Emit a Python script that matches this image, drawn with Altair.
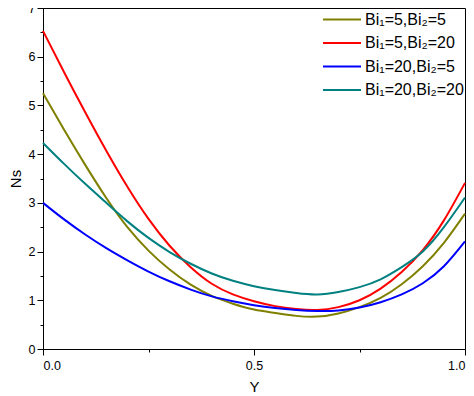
import altair as alt
import pandas as pd

Y = [0, 0.05, 0.1, 0.15, 0.2, 0.25, 0.3, 0.35, 0.4, 0.45, 0.5,
     0.55, 0.6, 0.65, 0.7, 0.75, 0.8, 0.85, 0.9, 0.95, 1.0]
ns_5_5 = [5.25, 4.50, 3.78, 3.10, 2.50, 2.02, 1.63, 1.32, 1.09, 0.93, 0.81,
          0.74, 0.68, 0.665, 0.73, 0.86, 1.05, 1.33, 1.70, 2.18, 2.78]
ns_5_20 = [6.53, 5.68, 4.86, 4.07, 3.33, 2.67, 2.12, 1.68, 1.34, 1.12, 0.98,
           0.88, 0.82, 0.80, 0.86, 1.00, 1.24, 1.58, 2.03, 2.64, 3.41]
ns_20_5 = [3.00, 2.66, 2.35, 2.07, 1.82, 1.59, 1.39, 1.22, 1.08, 0.98, 0.90,
           0.84, 0.80, 0.78, 0.79, 0.85, 0.96, 1.12, 1.35, 1.70, 2.21]
ns_20_20 = [4.23, 3.80, 3.39, 3.00, 2.62, 2.28, 1.99, 1.75, 1.55, 1.40, 1.29,
            1.21, 1.15, 1.12, 1.17, 1.27, 1.43, 1.68, 2.00, 2.50, 3.11]

labels = ["Bi₁=5,Bi₂=5", "Bi₁=5,Bi₂=20", "Bi₁=20,Bi₂=5", "Bi₁=20,Bi₂=20"]
colors = ["#808000", "#ff0000", "#0000ff", "#008080"]
series = [ns_5_5, ns_5_20, ns_20_5, ns_20_20]

x_major = [0, 0.5, 1.0]
x_minor = [0.25, 0.75]
y_major = [0, 1, 2, 3, 4, 5, 6, 7]
y_minor = [0.5, 1.5, 2.5, 3.5, 4.5, 5.5, 6.5]

rows = []
for lab, vals in zip(labels, series):
    for yy, v in zip(Y, vals):
        rows.append({"Y": yy, "Ns": v, "series": lab})
df = pd.DataFrame(rows)

FONT = "Liberation Sans"

xscale = alt.Scale(domain=[0, 1], nice=False, zero=False)
yscale = alt.Scale(domain=[0, 7], nice=False)

lines = alt.Chart(df).mark_line(interpolate="natural", strokeWidth=2).encode(
    x=alt.X("Y:Q", scale=xscale, axis=alt.Axis(
        values=x_major, format=".1f", title="Y", orient="bottom",
        tickSize=6, labelPadding=4, titlePadding=8, grid=False)),
    y=alt.Y("Ns:Q", scale=yscale, axis=alt.Axis(
        values=y_major, format="d", title="Ns", orient="left",
        tickSize=6, labelPadding=2, titlePadding=5, grid=False)),
    color=alt.Color("series:N", sort=labels,
                    scale=alt.Scale(domain=labels, range=colors),
                    legend=alt.Legend(title=None, orient="none", legendX=279, legendY=1,
                                      symbolType="M-1,0H3", symbolSize=361, symbolStrokeWidth=2,
                                      symbolFillColor="transparent",
                                      labelFontSize=16, labelFont=FONT, labelColor="black",
                                      labelOffset=22, rowPadding=4.5)),
)

minor = alt.Chart(df).mark_point(opacity=0).encode(
    x=alt.X("Y:Q", scale=xscale, axis=alt.Axis(
        values=x_minor, labels=False, title=None, orient="bottom",
        tickSize=3, domain=False, grid=False)),
    y=alt.Y("Ns:Q", scale=yscale, axis=alt.Axis(
        values=y_minor, labels=False, title=None, orient="left",
        tickSize=3, domain=False, grid=False)),
)

chart = alt.layer(lines, minor).resolve_axis(x="independent", y="independent").properties(
    width=422, height=341,
    autosize=alt.AutoSizeParams(type="none"),
    padding={"left": 35, "top": 0, "right": 1, "bottom": 46},
).configure_view(stroke="black", strokeWidth=1).configure_axis(
    domainColor="black", tickColor="black", labelColor="black", titleColor="black",
    labelFont=FONT, titleFont=FONT, labelFontSize=12.5, titleFontSize=15,
    titleFontWeight="normal", domainWidth=1, tickWidth=1,
)

chart.save("out.html", embed_options={"renderer": "svg", "actions": False})
